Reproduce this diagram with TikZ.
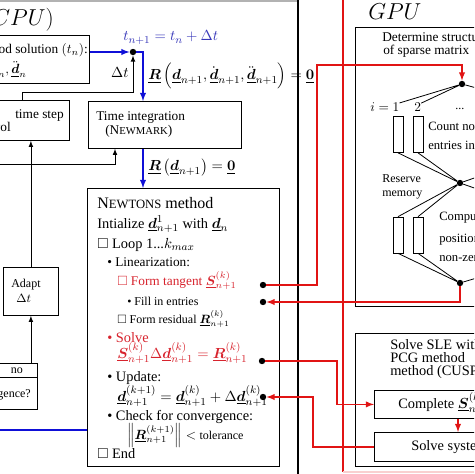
\documentclass[tikz,border=0pt]{standalone}
\usepackage{amsmath,amssymb}
\usepackage{fontspec}
\setmainfont{Liberation Serif}
\usetikzlibrary{calc}
\definecolor{cpublue}{RGB}{15,15,215}
\definecolor{lblblue}{RGB}{55,55,185}
\definecolor{gpured}{RGB}{225,20,20}
\definecolor{txtred}{RGB}{215,35,45}
\newcommand{\vb}[1]{\underline{\boldsymbol{#1}}}
\newcommand{\capsmall}[3]{#1{\fontsize{#3}{#3}\selectfont #2}}
\tikzset{
  box/.style={draw, line width=0.6pt, inner sep=0pt},
  dot/.style={circle, fill, inner sep=0pt, minimum size=4.8pt},
  bar/.style={draw, line width=0.5pt, inner sep=0pt, minimum width=7.5pt, minimum height=27pt},
  txt/.style={inner sep=0pt, anchor=base west, font=\fontsize{10}{11}\selectfont},
  big/.style={txt, font=\fontsize{10.8}{12}\selectfont},
  small/.style={txt, font=\fontsize{9}{10}\selectfont},
  blueline/.style={draw=cpublue, line width=1.1pt},
  redline/.style={draw=gpured, line width=1.1pt},
  thin/.style={line width=0.6pt},
}
\begin{document}
\begin{tikzpicture}[>=latex, x=0.75pt, y=-0.75pt]
\useasboundingbox (0,0) rectangle (474,474);
\clip (0,0) rectangle (474,474);
% borders of the two parts
\draw[gray!60, line width=1.5pt] (-5,1) -- (297,1);
\draw[line width=1.5pt] (298,-5) -- (298,480);
\draw[gpured, line width=1.6pt] (343,-5) -- (343,472);
\draw[gpured!20, line width=1.6pt] (343,472) -- (480,472);
\node[txt, anchor=base east, font=\fontsize{16}{18}\selectfont] (cpu) at (54,26) {$(CPU)$};
\node[txt, font=\fontsize{16}{18}\selectfont] (gpu) at (368,20) {$GPU$};

% CPU boxes
\node[box, anchor=north east, minimum width=82.5pt, minimum height=36pt] (sol) at (90,35) {};
\node[txt, anchor=base east] (sol1) at (88,54) {od solution $(t_n)$:};
\node[txt, anchor=base east] (sol2) at (27,74) {$\vb{d}_n, \dot{\vb{d}}_n, \ddot{\vb{d}}_n$};
\node[box, anchor=north east, minimum width=75pt, minimum height=30pt] (tsc) at (70,100) {};
\node[txt] (tsc1) at (15,119) {time step};
\node[txt, anchor=base east] (tsc2) at (11,132) {control};
\node[box, anchor=north west, minimum width=114.75pt, minimum height=35.25pt] (tint) at (88,101) {};
\node[txt] (tint1) at (96,121) {Time integration};
\node[txt] (tint2) at (105,135) {(\capsmall{N}{EWMARK}{8})};
\node[box, anchor=north west, minimum width=41.25pt, minimum height=36pt] (adapt) at (3,267) {};
\node[small] (adapt1) at (11,287) {Adapt};
\node[small] (adapt2) at (16,302) {$\Delta t$};
\node[box, anchor=north east, minimum width=52.5pt, minimum height=10.5pt] (nolab) at (38,363) {};
\node[small, anchor=base] (no) at (17,373) {no};
\node[box, anchor=north east, minimum width=52.5pt, minimum height=24pt] (conv) at (38,377) {};
\node[small, anchor=base east] (conv1) at (31,397) {convergence?};

% Newton box
\node[box, anchor=north west, minimum width=144pt, minimum height=208.5pt] (newton) at (87,188) {};
\node[txt, font=\fontsize{12}{14}\selectfont] (n0) at (97,208) {\capsmall{N}{EWTONS}{9.5} method};
\node[big] (n1) at (97,228) {Intialize $\vb{d}^1_{n+1}$ with $\vb{d}_n$};
\node[big] (n2) at (97,248) {$\square$ Loop 1...$k_{max}$};
\node[txt] (n3) at (107,266) {\textbullet\ Linearization:};
\node[txt, text=txtred] (n4) at (117,285) {$\square$ Form tangent $\vb{S}^{(k)}_{n+1}$};
\node[small] (n5) at (127,305) {\textbullet\ Fill in entries};
\node[small] (n6) at (117,323) {$\square$ Form residual $\vb{R}^{(k)}_{n+1}$};
\node[big, text=txtred] (n7) at (107,342) {\textbullet\ Solve};
\node[big, text=txtred] (n8) at (117,358) {$\vb{S}^{(k)}_{n+1}\Delta\vb{d}^{(k)}_{n+1}=\vb{R}^{(k)}_{n+1}$};
\node[big] (n9) at (107,381) {\textbullet\ Update:};
\node[big] (n10) at (117,401) {$\vb{d}^{(k+1)}_{n+1}=\vb{d}^{(k)}_{n+1}+\Delta\vb{d}^{(k)}_{n+1}$};
\node[big] (n11) at (107,420) {\textbullet\ Check for convergence:};
\node[txt] (n12) at (127,439) {$\left\|\vb{R}^{(k+1)}_{n+1}\right\| <$ {\small tolerance}};
\node[big] (n13) at (97,458) {$\square$ End};
\node[dot] (nT) at (263,285) {};
\node[dot] (nF) at (263,302) {};
\node[dot] (nS) at (262,361) {};
\node[dot] (nU) at (263,397) {};

% CPU connectors
\node[dot] (jT) at (133,52) {};
\coordinate (tx) at (143,0);
\coordinate (cx) at (22,0);
\coordinate (ix) at (115,0);
\coordinate (bendDt) at (133,92);
\coordinate (inL) at (-5,164);
\coordinate (outL) at (-5,430);
\draw[blueline,->] (jT -| sol.east) -- (jT);
\node[big, text=lblblue] (tnew) at (123,41) {$t_{n+1}=t_n+\Delta t$};
\draw[blueline,->] (jT) -| (tx |- tint.north);
\node[big] (res1) at (148,80) {$\vb{R}\left(\vb{d}_{n+1},\dot{\vb{d}}_{n+1},\ddot{\vb{d}}_{n+1}\right)=\vb{0}$};
\draw[blueline,->] (tx |- tint.south) -- (tx |- newton.north);
\node[big] (res2) at (148,171) {$\vb{R}\left(\vb{d}_{n+1}\right)=\vb{0}$};
\draw[thin,->] (cx |- tsc.north) |- (bendDt) -- node[big, anchor=base east, xshift=-3pt, yshift=-3pt]{$\Delta t$} (jT);
\draw[thin,->] (inL) -| (ix |- tint.south);
\draw[thin,->] (adapt.north) -- (adapt.north |- tsc.south);
\draw[thin,->] (adapt.south |- nolab.north) -- (adapt.south);
\draw[blueline] (newton.west |- outL) -- (outL);

% GPU: structure of sparse matrix
\node[box, anchor=north west, minimum width=105pt, minimum height=209.25pt] (gstruct) at (355,27) {};
\node[txt] (gs1) at (382,42) {Determine structure};
\node[txt] (gs2) at (383,55) {of sparse matrix};
\node[dot] (g1) at (462,84) {};
\node[dot] (g2) at (460,183) {};
\node[dot] (g3) at (460,283) {};
\node[txt] (lab1) at (370,112) {$i=1$};
\node[txt] (lab2) at (414,112) {$2$};
\node[small] (lab3) at (455,110) {...};
\node[bar] (b1) at (398,134.5) {};
\node[bar] (b2) at (418,134.5) {};
\node[bar] (b3) at (398,235) {};
\node[bar] (b4) at (418,235) {};
\node[small, font=\fontsize{9.5}{10}\selectfont] (cnt1) at (428,131) {Count non-zero};
\node[small, font=\fontsize{9.5}{10}\selectfont] (cnt2) at (428,150) {entries in row};
\node[small] (mem1) at (382,182) {Reserve};
\node[small] (mem2) at (382,196) {memory};
\node[small, font=\fontsize{9.5}{10}\selectfont] (pos1) at (439,220) {Compute};
\node[small, font=\fontsize{9.5}{10}\selectfont] (pos2) at (439,242) {positions of};
\node[small, font=\fontsize{9.5}{10}\selectfont] (pos3) at (439,261) {non-zeros};
\coordinate (e1) at (480,89);
\coordinate (e2a) at (480,176);
\coordinate (e2b) at (480,190);
\coordinate (e3) at (480,277);
\draw[thin] (lab1.north east) -- (g1) -- (lab2.north east);
\draw[thin] (g1) -- (e1);
\draw[thin] (b1.south) -- (g2) -- (b2.south);
\draw[thin] (b3.north) -- (g2) -- (b4.north);
\draw[thin] (e2a) -- (g2) -- (e2b);
\draw[thin] (b3.south) -- (g3) -- (b4.south);
\draw[thin] (g3) -- (e3);

% GPU: solve SLE
\node[box, anchor=north west, minimum width=105pt, minimum height=99.75pt] (gsle) at (355,333) {};
\node[big] (sl1) at (390,349) {Solve SLE with};
\node[big] (sl2) at (390,362) {PCG method};
\node[big] (sl3) at (390,375) {method (CUSP)};
\node[box, anchor=north west, minimum width=90pt, minimum height=21pt] (compl) at (374,390) {};
\node[big] (compl1) at (398,408) {Complete $\vb{S}^{(k)}_{n+1}$};
\node[box, anchor=north west, minimum width=90pt, minimum height=21.75pt] (solsys) at (374,432) {};
\node[big] (solsys1) at (411,450) {Solve system};

% red connectors CPU <-> GPU
\coordinate (rT) at (317,65);
\coordinate (rS) at (337,0);
\coordinate (rU) at (313,0);
\coordinate (ax) at (458,0);
\draw[redline,->] (nT) -| (rT) -| (g1);
\draw[redline,->] (g3) |- (nF);
\draw[redline,->] (nS) -| (rS |- compl.west) -- (compl.west);
\draw[redline,->] (solsys.west) -| (rU |- nU) -- (nU);
\draw[redline,->] (ax |- compl.south) -- (ax |- solsys.north);
\end{tikzpicture}
\end{document}
